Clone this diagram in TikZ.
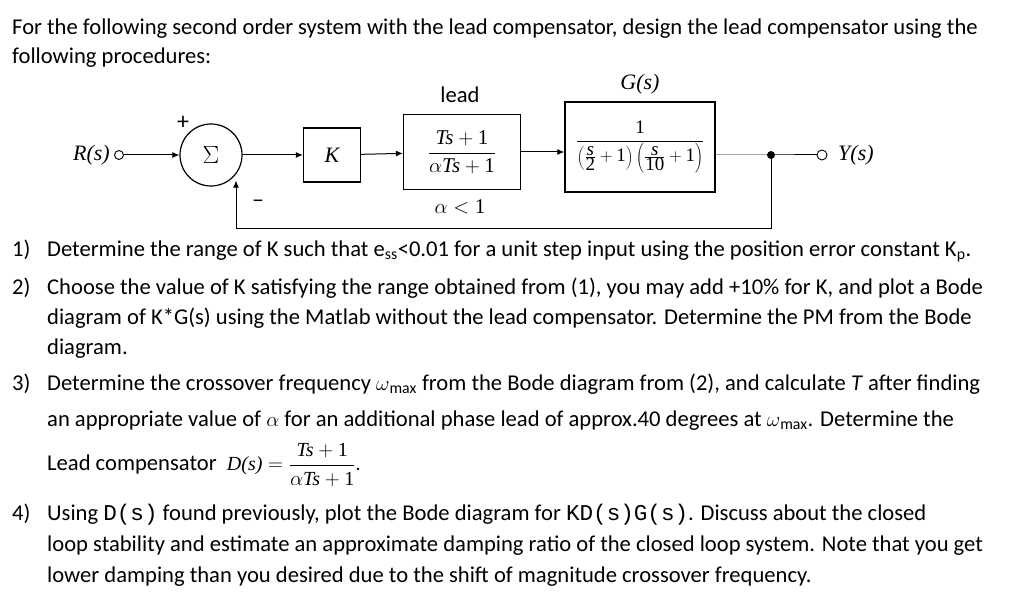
\documentclass[tikz,border=0pt]{standalone}
\usepackage{fontspec}
\setmainfont{Carlito}
\newfontfamily\tms{Liberation Serif}
\newfontfamily\mono{Liberation Mono}
\usetikzlibrary{arrows.meta}
\newcommand{\tx}[1]{\hbox{\tms\itshape #1}}
\newcommand{\tn}[1]{\hbox{\tms #1}}
\tikzset{
  blk/.style={draw,line width=1.2pt,inner sep=0pt},
  sig/.style={line width=1pt},
  arr/.style={sig,-{Latex[length=7pt,width=6pt]}},
  txt/.style={anchor=base west,inner sep=0pt,font=\fontsize{22.6}{25}\selectfont},
  mth/.style={inner sep=0pt,font=\tms\itshape\fontsize{22}{24}\selectfont}
}
\begin{document}
\begin{tikzpicture}[x=1pt,y=-1pt]
\useasboundingbox (0,0) rectangle (1024,604);
\node[txt] (l1) at (12,35) {For the following second order system with the lead compensator, design the lead compensator using the};
\node[txt] (l2) at (12,64) {following procedures:};
% diagram
\node[mth,anchor=east] (R) at (110,155) {R(s)};
\node[draw,circle,minimum size=9pt,inner sep=0pt,line width=0.9pt] (rc) at (119,155) {};
\node[draw,circle,minimum size=62pt,inner sep=0pt,line width=1.2pt] (sum) at (211,155) {\fontsize{30}{32}\selectfont$\Sigma$};
\node[font=\fontsize{24}{26}\selectfont] (plus) at (183,123) {+};
\node[font=\fontsize{24}{26}\selectfont] (minus) at (258,204) {--};
\node[blk,minimum width=57pt,minimum height=54pt,mth] (K) at (332,155) {K};
\node[blk,minimum width=117pt,minimum height=75pt] (lead) at (462,152) {\fontsize{21}{24}\selectfont$\displaystyle\frac{\tx{Ts}+\tn{1}}{\alpha\tx{Ts}+\tn{1}}$};
\node[txt,anchor=base] (leadt) at (460,103) {lead};
\node[anchor=base,font=\fontsize{21}{24}\selectfont] (al) at (460,213) {$\alpha<\tn{1}$};
\node[blk,minimum width=150pt,minimum height=90pt] (G) at (640,147) {};
\node[anchor=center,inner sep=0pt,font=\fontsize{19}{22}\selectfont] (gd) at (640,147) {$\displaystyle\frac{\tn{1}}{\left(\frac{\tx{s}}{\tn{2}}+\tn{1}\right)\left(\frac{\tx{s}}{\tn{10}}+\tn{1}\right)}$};
\node[mth,anchor=base] (Gs) at (640,90) {G(s)};
\coordinate (dot) at (771,155);
\fill (dot) circle (4pt);
\node[draw,circle,minimum size=10pt,inner sep=0pt,line width=0.9pt] (yc) at (822,155) {};
\node[mth,anchor=west] (Y) at (838,155) {Y(s)};
\coordinate (fb) at (771,228);
\coordinate (fb2) at (236,228);
\draw[arr] (rc) -- (sum);
\draw[arr] (sum) -- (K);
\draw[arr] (K) -- (lead);
\draw[arr] (lead.east) -- (G.west |- lead.east);
\draw[sig] (G.east |- dot) -- (dot) -- (yc);
\draw[arr] (dot) -- (fb) -- (fb2) -- (fb2 |- sum.-54);
% questions
\node[txt] (n1) at (12,256) {1)};
\node[txt] (q1) at (47,256) {Determine the range of K such that e\textsubscript{ss}<0.01 for a unit step input using the position error constant K\textsubscript{p}.};
\node[txt] (n2) at (12,294) {2)};
\node[txt] (q2a) at (47,294) {Choose the value of K satisfying the range obtained from (1), you may add +10\% for K, and plot a Bode};
\node[txt] (q2b) at (47,324) {diagram of K*G(s) using the Matlab without the lead compensator. Determine the PM from the Bode};
\node[txt] (q2c) at (47,354) {diagram.};
\node[txt] (n3) at (12,390) {3)};
\node[txt] (q3a) at (47,390) {Determine the crossover frequency {\tms$\omega$}\textsubscript{max} from the Bode diagram from (2), and calculate \textit{T} after finding};
\node[txt] (q3b) at (47,426) {an appropriate value of {\tms$\alpha$} for an additional phase lead of approx.40 degrees at {\tms$\omega$}\textsubscript{max}. Determine the};
\node[txt,anchor=west] (q3c) at (47,465) {Lead compensator\ \ {\fontsize{20}{24}\selectfont$\tx{D(s)}=\displaystyle\frac{\tx{Ts}+\tn{1}}{\alpha\tx{Ts}+\tn{1}}$.}};
\node[txt] (n4) at (12,520) {4)};
\node[txt] (q4a) at (47,520) {Using {\mono D(s)} found previously, plot the Bode diagram for {\mono KD(s)G(s)}. Discuss about the closed};
\node[txt] (q4b) at (47,551) {loop stability and estimate an approximate damping ratio of the closed loop system. Note that you get};
\node[txt] (q4c) at (47,582) {lower damping than you desired due to the shift of magnitude crossover frequency.};
\end{tikzpicture}
\end{document}
